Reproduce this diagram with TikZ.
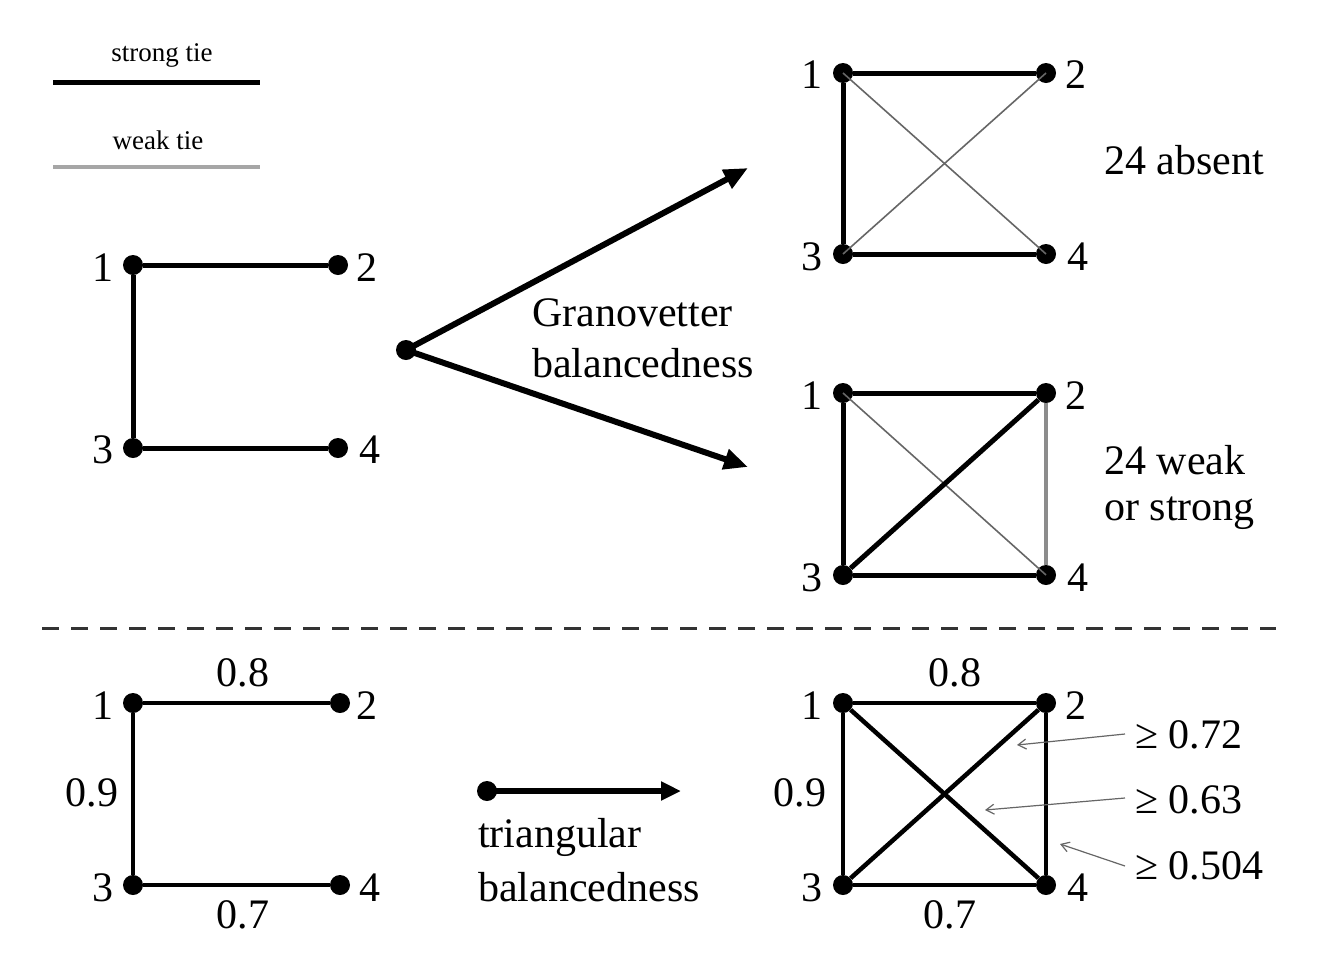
\documentclass[tikz,border=0pt]{standalone}
\usepackage{fontspec}
\setmainfont{Liberation Serif}
\usetikzlibrary{arrows.meta}
\begin{document}
\begin{tikzpicture}[x=1pt,y=-1pt,
  dot/.style={circle,fill=black,inner sep=0pt,minimum size=20pt},
  lbl/.style={inner sep=0pt,font=\fontsize{42}{46}\selectfont},
  small/.style={inner sep=0pt,font=\fontsize{27}{30}\selectfont},
  strongtie/.style={line width=5pt,black},
  weaktie/.style={line width=3.5pt,black!45},
  thinweak/.style={line width=1.6pt,black!60},
  valtie/.style={line width=4.5pt,black},
  bigarrow/.style={line width=6pt,-{Triangle[length=24pt,width=20pt]}},
  note/.style={line width=1.2pt,black!60,-{Straight Barb[length=8pt,width=10pt]}}]
\useasboundingbox (0,0) rectangle (1320,962);
% legend
\node[small] (ls) at (162,55) {strong tie};
\coordinate (ls1) at (53,82); \coordinate (ls2) at (260,82);
\draw[strongtie] (ls1) -- (ls2);
\node[small] (lw) at (158,140) {weak tie};
\coordinate (lw1) at (53,167); \coordinate (lw2) at (260,167);
\draw[line width=3.5pt,black!35] (lw1) -- (lw2);

% top-left graph
\node[dot] (a1) at (133,265) {}; \node[dot] (a2) at (338,265) {};
\node[dot] (a3) at (133,448) {}; \node[dot] (a4) at (338,448) {};
\node[lbl] at (103,268) {1}; \node[lbl] at (367,268) {2};
\node[lbl] at (103,450) {3}; \node[lbl] at (370,450) {4};
\draw[strongtie] (a1) -- (a2); \draw[strongtie] (a1) -- (a3); \draw[strongtie] (a3) -- (a4);

% Granovetter arrows
\node[dot] (src) at (406,350) {};
\coordinate (up) at (748,168); \coordinate (dn) at (748,467);
\draw[bigarrow] (src.center) -- (up);
\draw[bigarrow] (src.center) -- (dn);
\node[lbl,anchor=west] (g1) at (532,313) {Granovetter};
\node[lbl,anchor=west] (g2) at (532,363) {balancedness};

% top-right graph
\node[dot] (b1) at (843,73) {}; \node[dot] (b2) at (1046,73) {};
\node[dot] (b3) at (843,254) {}; \node[dot] (b4) at (1046,254) {};
\node[lbl] at (812,75) {1}; \node[lbl] at (1076,75) {2};
\node[lbl] at (812,257) {3}; \node[lbl] at (1078,257) {4};
\draw[thinweak] (b1.center) -- (b4.center); \draw[thinweak] (b2.center) -- (b3.center);
\draw[strongtie] (b1) -- (b2); \draw[strongtie] (b1) -- (b3); \draw[strongtie] (b3) -- (b4);
\node[lbl,anchor=west] (t1) at (1104,160) {24 absent};

% middle-right graph
\node[dot] (c1) at (843,393) {}; \node[dot] (c2) at (1046,393) {};
\node[dot] (c3) at (843,575) {}; \node[dot] (c4) at (1046,575) {};
\node[lbl] at (812,396) {1}; \node[lbl] at (1076,396) {2};
\node[lbl] at (812,578) {3}; \node[lbl] at (1078,578) {4};
\draw[thinweak] (c1.center) -- (c4.center);
\draw[weaktie] (c2) -- (c4);
\draw[strongtie] (c1) -- (c2); \draw[strongtie] (c1) -- (c3); \draw[strongtie] (c3) -- (c4);
\draw[strongtie] (c2) -- (c3);
\node[lbl,anchor=west] (t2) at (1104,460) {24 weak};
\node[lbl,anchor=west] (t3) at (1104,513) {or strong};

% dashed separator
\coordinate (d1) at (42,628); \coordinate (d2) at (1276,628);
\draw[line width=3pt,black!80,dash pattern=on 17pt off 12pt] (d1) -- (d2);

% bottom-left graph
\node[dot] (e1) at (133,703) {}; \node[dot] (e2) at (340,703) {};
\node[dot] (e3) at (133,885) {}; \node[dot] (e4) at (340,885) {};
\node[lbl] at (103,706) {1}; \node[lbl] at (367,706) {2};
\node[lbl] at (103,888) {3}; \node[lbl] at (370,888) {4};
\draw[valtie] (e1) -- (e2); \draw[valtie] (e1) -- (e3); \draw[valtie] (e3) -- (e4);
\node[lbl] at (243,673) {0.8};
\node[lbl] at (92,793) {0.9};
\node[lbl] at (243,915) {0.7};

% triangular arrow
\node[dot] (src2) at (487,791) {};
\coordinate (tr) at (681,791);
\draw[line width=6pt,-{Triangle[length=20pt,width=18pt]}] (src2.center) -- (tr);
\node[lbl,anchor=west] (tb1) at (478,837) {triangular};
\node[lbl,anchor=west] (tb2) at (478,887) {balancedness};

% bottom-right graph
\node[dot] (f1) at (843,703) {}; \node[dot] (f2) at (1046,703) {};
\node[dot] (f3) at (843,885) {}; \node[dot] (f4) at (1046,885) {};
\node[lbl] at (812,706) {1}; \node[lbl] at (1076,706) {2};
\node[lbl] at (812,888) {3}; \node[lbl] at (1078,888) {4};
\draw[valtie] (f1) -- (f2); \draw[valtie] (f1) -- (f3); \draw[valtie] (f3) -- (f4);
\draw[valtie] (f2) -- (f4); \draw[valtie] (f1) -- (f4); \draw[valtie] (f2) -- (f3);
\node[lbl] at (955,673) {0.8};
\node[lbl] at (800,793) {0.9};
\node[lbl] at (950,915) {0.7};

% annotations
\node[lbl,anchor=west] (n1) at (1135,735) {≥ 0.72};
\node[lbl,anchor=west] (n2) at (1135,800) {≥ 0.63};
\node[lbl,anchor=west] (n3) at (1135,866) {≥ 0.504};
\coordinate (p1) at (1017,745);
\coordinate (p2) at (985,810);
\coordinate (p3) at (1060,844);
\coordinate (q1) at (1125,734);
\coordinate (q2) at (1125,798);
\coordinate (q3) at (1125,866);
\draw[note] (q1) -- (p1);
\draw[note] (q2) -- (p2);
\draw[note] (q3) -- (p3);
\end{tikzpicture}
\end{document}
